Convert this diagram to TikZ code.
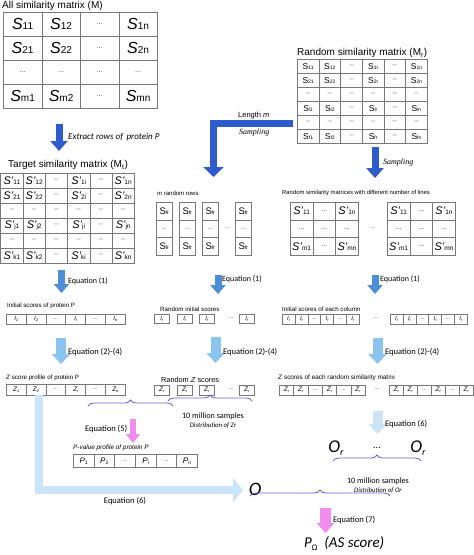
\documentclass[tikz,border=0pt]{standalone}
\usepackage{fontspec}
\setmainfont{Liberation Sans}
\newfontfamily\carl{Carlito}
\newfontfamily\serf{Liberation Serif}
\usetikzlibrary{arrows.meta,decorations.pathreplacing}
\definecolor{darkblue}{RGB}{47,92,205}
\definecolor{midblue}{RGB}{78,142,216}
\definecolor{lightblue}{RGB}{140,196,240}
\definecolor{paleblue}{RGB}{202,228,250}
\definecolor{pinkarrow}{RGB}{240,140,235}
\definecolor{bracecol}{RGB}{105,95,215}
\definecolor{gridgray}{RGB}{120,120,120}
\newcommand\bS[1]{{\fontsize{16}{16}\selectfont\itshape S}{\fontsize{10}{10}\selectfont #1}}
\newcommand\mS[1]{{\fontsize{11}{11}\selectfont\itshape S’}{\fontsize{6.5}{6.5}\selectfont #1}}
\newcommand\sS[1]{{\fontsize{8.5}{8.5}\selectfont S}{\fontsize{5}{5}\selectfont #1}}
\newcommand\rS[1]{{\fontsize{9.5}{9.5}\selectfont S}{\fontsize{5.5}{5.5}\selectfont #1}}
\newcommand\dd{{\fontsize{7}{7}\selectfont\color{darkgray}...}}
\newcommand\da{{\fontsize{8}{8}\selectfont\color{gray}–}}
\newcommand\cdt{{\fontsize{5}{5}\selectfont ...}}
\newcommand\cI[1]{{\fontsize{6}{6}\selectfont\itshape I}\raisebox{-1pt}{\fontsize{4}{4}\selectfont\itshape #1}}
\newcommand\cZ[1]{{\fontsize{6.5}{6.5}\selectfont\itshape Z}\raisebox{-1pt}{\fontsize{4}{4}\selectfont\itshape #1}}
\newcommand\cP[1]{{\fontsize{8}{8}\selectfont\itshape P}\raisebox{-1pt}{\fontsize{5}{5}\selectfont #1}}
\begin{document}
\begin{tikzpicture}[x=1pt,y=-1pt,
  cell/.style={draw=gridgray, line width=0.6pt, inner sep=0pt, anchor=north west},
  lbl/.style={inner sep=0pt, anchor=west},
  ctr/.style={inner sep=0pt},
  darkarrow/.style={draw=darkblue, line width=7pt, -{Triangle[width=17pt,length=10pt]}},
  eqone/.style={draw=midblue, line width=7pt, -{Triangle[width=15pt,length=9pt]}},
  eqtwo/.style={draw=lightblue, line width=10pt, -{Triangle[width=18pt,length=10pt]}},
  eqsix/.style={draw=paleblue, line width=10pt, -{Triangle[width=18pt,length=10pt]}},
  pinkA/.style={draw=pinkarrow, line width=#1, -{Triangle[width=14pt,length=9pt]}},
  bracestyle/.style={draw=bracecol, line width=0.8pt, decorate, decoration={brace, amplitude=6pt}},
  smalltitle/.style={lbl, font=\fontsize{6.2}{7}\selectfont},
  eqlbl/.style={lbl, font=\carl\fontsize{8.5}{9}\selectfont},
  bigtitle/.style={lbl, font=\fontsize{10}{11}\selectfont}
]
\useasboundingbox (0,0) rectangle (474,555);

% ---------- All similarity matrix M
\node[bigtitle] (tM) at (2,6) {All similarity matrix (M)};
\foreach \row [count=\i from 0] in {{\bS{11},\bS{12},\dd,\bS{1n}},{\bS{21},\bS{22},\dd,\bS{2n}},{\dd,\dd,\dd,\dd},{\bS{m1},\bS{m2},\dd,\bS{mn}}}
  {\foreach \e [count=\j from 0] in \row
    {\node[cell,minimum width=38.5pt,minimum height=24pt] (M-\i-\j) at ({3+38.5*\j},{12+24*\i}) {\e};}}

% extract arrow
\coordinate (ex1) at (59,124);
\coordinate (ex2) at (59,151);
\draw[darkarrow] (ex1) -- (ex2);
\node[lbl, font=\carl\itshape\fontsize{9}{10}\selectfont] (exl) at (68,137) {Extract rows of\, protein P};

% ---------- Target similarity matrix Mt
\node[bigtitle] (tMt) at (8,165) {Target similarity matrix (M\textsubscript{t})};
\foreach \row [count=\i from 0] in {{\mS{11},\mS{12},\da,\mS{1i},\da,\mS{1n}},{\mS{21},\mS{22},\da,\mS{2i},\da,\mS{2n}},{\da,\da,\da,\da,\da,\da},{\mS{j1},\mS{j2},\da,\mS{ji},\da,\mS{jn}},{\da,\da,\da,\da,\da,\da},{\mS{k1},\mS{k2},\da,\mS{ki},\da,\mS{kn}}}
  {\foreach \e [count=\j from 0] in \row
    {\node[cell,minimum width=22.25pt,minimum height=15pt] (T-\i-\j) at ({0.5+22.25*\j},{173+15*\i}) {\e};}}

% ---------- Random similarity matrix Mr
\node[bigtitle] (tMr) at (297,53) {Random similarity matrix (M\textsubscript{r})};
\foreach \row [count=\i from 0] in {{\sS{11},\sS{12},\da,\sS{1r},\da,\sS{1n}},{\sS{21},\sS{22},\da,\sS{2r},\da,\sS{2n}},{\da,\da,\da,\da,\da,\da},{\sS{l1},\sS{l2},\da,\sS{lr},\da,\sS{ln}},{\da,\da,\da,\da,\da,\da},{\sS{f1},\sS{f2},\da,\sS{fr},\da,\sS{fn}}}
  {\foreach \e [count=\j from 0] in \row
    {\node[cell,minimum width=21.67pt,minimum height=14pt] (Mr-\i-\j) at ({297+21.67*\j},{59+14*\i}) {\e};}}

% L-shaped sampling arrow
\coordinate (L1) at (293,123.5);
\coordinate (L2) at (213.5,177);
\draw[darkarrow, line join=miter, -{Triangle[width=20pt,length=10pt]}] (L1) -| (L2);
\node[lbl, font=\fontsize{7.5}{8}\selectfont] (lenm) at (238,116) {Length \textit{m}};
\node[lbl, font=\serf\itshape\fontsize{8}{9}\selectfont] (samp1) at (239,133) {Sampling};

% right sampling arrow
\coordinate (S1) at (375,147);
\coordinate (S2) at (375,178);
\draw[darkarrow] (S1) -- (S2);
\node[lbl, font=\serf\itshape\fontsize{8}{9}\selectfont] (samp2) at (383,163) {Sampling};

% ---------- m random rows
\node[lbl, font=\fontsize{6}{7}\selectfont] (tmr) at (157,193) {\textit{m} random rows};
\foreach \x [count=\j] in {156,179,202,235}{
  \node[cell,minimum width=16pt,minimum height=17.67pt] (R-\j-1) at (\x,202) {\rS{lr}};
  \node[cell,minimum width=16pt,minimum height=17.67pt] (R-\j-2) at (\x,219.67) {\cdt};
  \node[cell,minimum width=16pt,minimum height=17.67pt] (R-\j-3) at (\x,237.33) {\rS{lr}};
}
\node[ctr] (Rdots) at (227,228.5) {\cdt};

% ---------- Random similarity matrices with different number of lines
\node[lbl, font=\fontsize{5.9}{7}\selectfont] (tRS) at (282,193) {Random similarity matrices with different number of lines};
\foreach \ox/\nm in {290/A,387/B}{
  \foreach \row [count=\i from 0] in {{\mS{11},\dd,\mS{1n}},{\dd,\dd,\dd},{\mS{m1},\dd,\mS{mn}}}
    {\foreach \e [count=\j from 0] in \row
      {\node[cell,minimum width=22.67pt,minimum height=17.67pt] (\nm-\i-\j) at ({\ox+22.67*\j},{202+17.67*\i}) {\e};}}
}
\node[ctr] (ABdots) at (373,228.5) {\cdt};

% ---------- Equation (1) arrows
\coordinate (e1a) at (61.5,270); \coordinate (e1b) at (61.5,293);
\coordinate (e1c) at (218,275);  \coordinate (e1d) at (218,294);
\coordinate (e1e) at (375,275);  \coordinate (e1f) at (375,294);
\draw[eqone] (e1a) -- (e1b);
\draw[eqone] (e1c) -- (e1d);
\draw[eqone] (e1e) -- (e1f);
\node[lbl, font=\carl\fontsize{8}{9}\selectfont] (eq1a) at (68,281) {Equation (1)};
\node[lbl, font=\carl\fontsize{8}{9}\selectfont] (eq1b) at (222,279) {Equation (1)};
\node[lbl, font=\carl\fontsize{8}{9}\selectfont] (eq1c) at (380,279) {Equation (1)};

% ---------- Initial scores
\node[smalltitle] (tIS) at (7,306) {Initial scores of protein P};
\foreach \e [count=\j from 0] in {\cI{1},\cI{2},\cdt,\cI{i},\cdt,\cI{n}}
  {\node[cell,minimum width=19.83pt,minimum height=10pt] (I-\j) at ({6+19.83*\j},313.5) {\e};}
\node[smalltitle] (tRIS) at (160,309) {Random initial scores};
\foreach \x [count=\j] in {154,177,199,239}
  {\node[cell,minimum width=15pt,minimum height=9.5pt] (RI-\j) at (\x,313.5) {\cI{r}};}
\node[ctr] (RIdots) at (231,318) {\cdt};
\node[smalltitle] (tISC) at (282,309) {Initial scores of each column};
\foreach \ox/\nm in {282/CA,390/CB}{
  \foreach \e [count=\j from 0] in {\cI{r},\cI{r},\cdt,\cI{r},\cdt,\cI{r}}
    {\node[cell,minimum width=12.83pt,minimum height=10pt] (\nm-\j) at ({\ox+12.83*\j},313.5) {\e};}
}
\node[ctr] (Cdots) at (376,318) {\cdt};

% ---------- Equation (2)-(4) arrows
\coordinate (e2a) at (61,338);  \coordinate (e2b) at (61,364);
\coordinate (e2c) at (215.5,337); \coordinate (e2d) at (215.5,363);
\coordinate (e2e) at (377.5,338); \coordinate (e2f) at (377.5,364);
\draw[eqtwo] (e2a) -- (e2b);
\draw[eqtwo] (e2c) -- (e2d);
\draw[eqtwo] (e2e) -- (e2f);
\node[eqlbl] (eq2a) at (68,352) {Equation (2)-(4)};
\node[eqlbl] (eq2b) at (223,352) {Equation (2)-(4)};
\node[eqlbl] (eq2c) at (385,352) {Equation (2)-(4)};

% ---------- Z scores
\node[smalltitle] (tZP) at (6,378) {\textit{Z} score profile of protein P};
\foreach \e [count=\j from 0] in {\cZ{1},\cZ{2},\cdt,\cZ{i},\cdt,\cZ{n}}
  {\node[cell,minimum width=19.83pt,minimum height=10.5pt] (Z-\j) at ({6+19.83*\j},384) {\e};}
\node[lbl, font=\fontsize{7.3}{8}\selectfont] (tRZ) at (161,380) {Random \textit{Z} scores};
\foreach \x [count=\j] in {154,177,199,239}
  {\node[cell,minimum width=15pt,minimum height=10pt] (RZ-\j) at (\x,384.5) {\cZ{r}};}
\node[ctr] (RZdots) at (231,389) {\cdt};
\node[lbl, font=\fontsize{6.4}{7}\selectfont] (tZR) at (278,378) {\textit{Z} scores of each random similarity matrix};
\foreach \ox/\cw/\nm in {279/14.33/ZA,389/14/ZB}{
  \foreach \e [count=\j from 0] in {\cZ{r},\cZ{r},\cdt,\cZ{r},\cdt,\cZ{r}}
    {\node[cell,minimum width=\cw pt,minimum height=10pt] (\nm-\j) at ({\ox+\cw*\j},384.5) {\e};}
}
\node[ctr] (Zdots) at (377,389) {\cdt};

% ---------- braces and sample labels
\coordinate (b1a) at (88,406); \coordinate (b1b) at (173,406);
\draw[bracestyle] (b1a) -- (b1b);
\coordinate (b2a) at (168,401); \coordinate (b2b) at (252,401);
\draw[bracestyle] (b2a) -- (b2b);
\node[ctr, font=\carl\fontsize{8.2}{9}\selectfont] (tms1) at (213,416) {10 million samples};
\node[ctr, font=\carl\itshape\fontsize{6.8}{8}\selectfont] (tdz) at (213,426) {Distribution of Zr};

% ---------- Equation (5) pink arrow
\coordinate (p5a) at (133,419); \coordinate (p5b) at (133,443);
\draw[pinkA=6pt] (p5a) -- (p5b);
\node[eqlbl] (eq5) at (85,429) {Equation (5)};

% ---------- P-value profile
\node[lbl, font=\itshape\fontsize{6.4}{7}\selectfont] (tPV) at (73,448) {P-value profile of protein P};
\foreach \e [count=\j from 0] in {\cP{1},\cP{2},\cdt,\cP{i},\cdt,\cP{n}}
  {\node[cell,minimum width=20.67pt,minimum height=13pt] (P-\j) at ({73+20.67*\j},454) {\e};}

% ---------- pale L arrow (Equation 6)
\coordinate (q1) at (39,394.5);
\coordinate (q2) at (243,490);
\draw[draw=paleblue, line width=8pt, line join=miter, -{Triangle[width=24pt,length=10pt]}] (q1) |- (q2);
\node[ctr, font=\carl\fontsize{8.5}{9}\selectfont] (eq6a) at (125,501) {Equation (6)};

% ---------- right Equation (6)
\coordinate (r6a) at (377.5,411); \coordinate (r6b) at (377.5,434);
\draw[eqsix] (r6a) -- (r6b);
\node[eqlbl] (eq6b) at (385,424) {Equation (6)};

% ---------- O_r
\node[ctr, font=\carl\itshape\fontsize{18}{18}\selectfont] (Or1) at (336,448) {O\raisebox{-3pt}{\fontsize{10}{10}\selectfont r}};
\node[ctr, font=\carl\fontsize{10}{10}\selectfont] (Ordots) at (377,448) {...};
\node[ctr, font=\carl\itshape\fontsize{18}{18}\selectfont] (Or2) at (418,448) {O\raisebox{-3pt}{\fontsize{10}{10}\selectfont r}};
\coordinate (b3a) at (333,461); \coordinate (b3b) at (421,461);
\draw[bracestyle] (b3a) -- (b3b);
\node[ctr, font=\carl\fontsize{8.2}{9}\selectfont] (tms2) at (378,481) {10 million samples};
\node[ctr, font=\carl\itshape\fontsize{6.8}{8}\selectfont] (tdo) at (378,490.5) {Distribution of Or};

% ---------- O and final
\node[ctr, font=\carl\itshape\fontsize{19}{19}\selectfont] (O) at (255,489) {O};
\coordinate (b4a) at (250,496); \coordinate (b4b) at (390,496);
\draw[bracestyle] (b4a) -- (b4b);
\coordinate (p7a) at (325.5,508); \coordinate (p7b) at (325.5,533);
\draw[pinkA=11pt, -{Triangle[width=17pt,length=10pt]}] (p7a) -- (p7b);
\node[lbl, font=\carl\fontsize{8.5}{9}\selectfont] (eq7) at (333,520) {Equation (7)};
\node[lbl, font=\carl\itshape\fontsize{15}{15}\selectfont] (PO) at (304,544) {P\raisebox{-3pt}{\fontsize{8.5}{8.5}\selectfont\upshape Ω}\ \ (AS score)};
\end{tikzpicture}
\end{document}
